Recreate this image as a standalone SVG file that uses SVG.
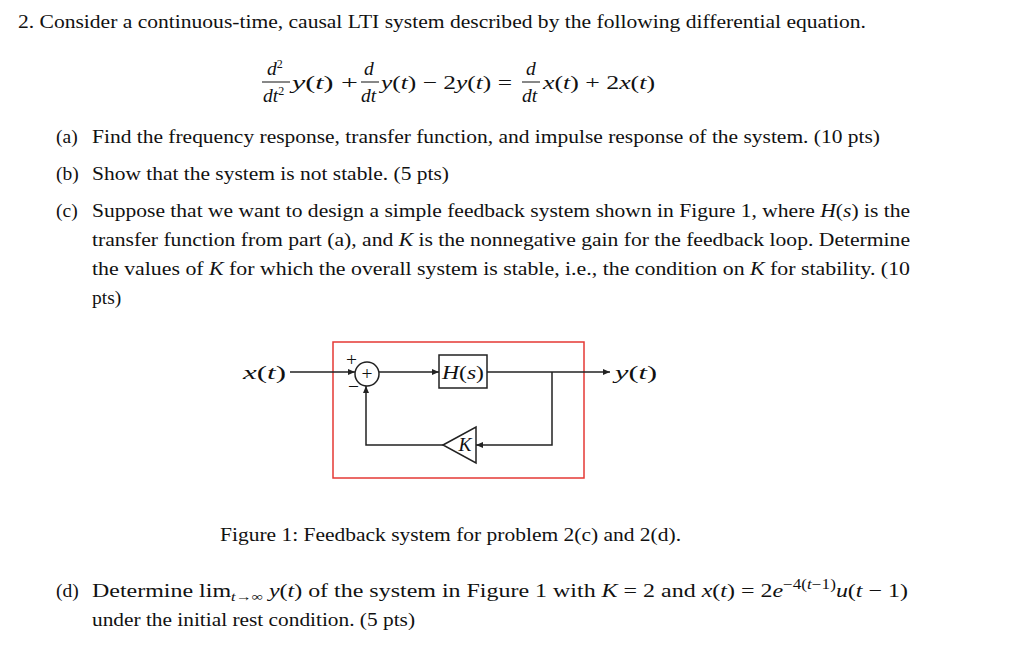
<svg xmlns="http://www.w3.org/2000/svg" width="1024" height="649" viewBox="0 0 1024 649">
<style>
text{font-family:"Liberation Serif","Times New Roman",serif;font-size:19.5px;fill:#111}
.m{font-style:italic}
.w{stroke:#222;stroke-width:1.5;fill:none}
</style>
<defs><marker id="a" markerWidth="8" markerHeight="8" refX="7" refY="4" orient="auto" markerUnits="userSpaceOnUse"><path d="M0,1 L7,4 L0,7 Z" fill="#222"/></marker></defs>
<rect width="1024" height="649" fill="#fff"/>
<text x="18" y="28" textLength="848" lengthAdjust="spacingAndGlyphs">2. Consider a continuous-time, causal LTI system described by the following differential equation.</text>
<g id="eq">
<text x="267" y="75" class="m" font-size="18">d<tspan font-size="12" dy="-7" font-style="normal">2</tspan></text>
<line x1="262" y1="82" x2="290" y2="82" stroke="#111" stroke-width="1"/>
<text x="263" y="102" class="m" font-size="18">dt<tspan font-size="12" dy="-7" font-style="normal">2</tspan></text>
<text x="292" y="89" font-size="20" textLength="66" lengthAdjust="spacingAndGlyphs"><tspan class="m">y</tspan>(<tspan class="m">t</tspan>) +</text>
<text x="364" y="75" class="m" font-size="18">d</text>
<line x1="361" y1="82" x2="379" y2="82" stroke="#111" stroke-width="1"/>
<text x="361" y="102" class="m" font-size="18">dt</text>
<text x="381" y="89" font-size="20" textLength="131" lengthAdjust="spacingAndGlyphs"><tspan class="m">y</tspan>(<tspan class="m">t</tspan>) − 2<tspan class="m">y</tspan>(<tspan class="m">t</tspan>) =</text>
<text x="526" y="75" class="m" font-size="18">d</text>
<line x1="522" y1="82" x2="540" y2="82" stroke="#111" stroke-width="1"/>
<text x="522" y="102" class="m" font-size="18">dt</text>
<text x="543" y="89" font-size="20" textLength="112" lengthAdjust="spacingAndGlyphs"><tspan class="m">x</tspan>(<tspan class="m">t</tspan>) + 2<tspan class="m">x</tspan>(<tspan class="m">t</tspan>)</text>
</g>
<text x="56" y="143">(a)</text><text x="92" y="143" textLength="788" lengthAdjust="spacingAndGlyphs">Find the frequency response, transfer function, and impulse response of the system. (10 pts)</text>
<text x="56" y="180">(b)</text><text x="92" y="180" textLength="357" lengthAdjust="spacingAndGlyphs">Show that the system is not stable. (5 pts)</text>
<text x="56" y="217">(c)</text><text x="92" y="217" textLength="818" lengthAdjust="spacingAndGlyphs">Suppose that we want to design a simple feedback system shown in Figure 1, where <tspan class="m">H</tspan>(<tspan class="m">s</tspan>) is the</text>
<text x="92" y="246" textLength="818" lengthAdjust="spacingAndGlyphs">transfer function from part (a), and <tspan class="m">K</tspan> is the nonnegative gain for the feedback loop. Determine</text>
<text x="92" y="275" textLength="818" lengthAdjust="spacingAndGlyphs">the values of <tspan class="m">K</tspan> for which the overall system is stable, i.e., the condition on <tspan class="m">K</tspan> for stability. (10</text>
<text x="92" y="304">pts)</text>
<rect id="frame" x="333" y="342" width="251" height="136" fill="none" stroke="#e53935" stroke-width="1.5"/>
<g id="x"><text x="243" y="379" font-size="21" textLength="43" lengthAdjust="spacingAndGlyphs"><tspan class="m">x</tspan>(<tspan class="m">t</tspan>)</text></g>
<g id="sum"><circle cx="367" cy="374" r="12" class="w"/><text x="367" y="380" font-size="16" text-anchor="middle" font-family="Liberation Sans">+</text>
<text x="346" y="366" font-size="14" font-family="Liberation Sans">+</text><text x="348" y="393" font-size="14" font-family="Liberation Sans">−</text></g>
<g id="H"><rect x="439" y="355" width="48" height="33" class="w"/><text x="463" y="379" text-anchor="middle" font-size="18" textLength="42" lengthAdjust="spacingAndGlyphs"><tspan class="m">H</tspan>(<tspan class="m">s</tspan>)</text></g>
<g id="K"><path d="M443,445 L476,427 L476,463 Z" class="w"/><text x="465" y="451" text-anchor="middle" font-size="15" class="m">K</text></g>
<g id="y"><text x="615" y="379" font-size="21" textLength="42" lengthAdjust="spacingAndGlyphs"><tspan class="m">y</tspan>(<tspan class="m">t</tspan>)</text></g>
<g id="connectors" class="w">
<line x1="290" y1="372" x2="355" y2="372" marker-end="url(#a)"/>
<line x1="379" y1="372" x2="439" y2="372" marker-end="url(#a)"/>
<line x1="487" y1="372" x2="610" y2="372" marker-end="url(#a)"/>
<polyline points="552,372 552,445 476,445" marker-end="url(#a)"/>
<polyline points="443,445 366,445 366,386" marker-end="url(#a)"/>
</g>
<text x="220" y="541" textLength="461" lengthAdjust="spacingAndGlyphs">Figure 1: Feedback system for problem 2(c) and 2(d).</text>
<text x="56" y="597">(d)</text>
<text x="92" y="597" textLength="816" lengthAdjust="spacingAndGlyphs">Determine lim<tspan font-size="13" dy="4"><tspan class="m">t</tspan>→∞</tspan><tspan dy="-4"> </tspan><tspan class="m">y</tspan>(<tspan class="m">t</tspan>) of the system in Figure 1 with <tspan class="m">K</tspan> = 2 and <tspan class="m">x</tspan>(<tspan class="m">t</tspan>) = 2<tspan class="m">e</tspan><tspan font-size="14" dy="-8">−4(<tspan class="m">t</tspan>−1)</tspan><tspan dy="8" class="m">u</tspan>(<tspan class="m">t</tspan> − 1)</text>
<text x="92" y="626" textLength="323" lengthAdjust="spacingAndGlyphs">under the initial rest condition. (5 pts)</text>
</svg>
